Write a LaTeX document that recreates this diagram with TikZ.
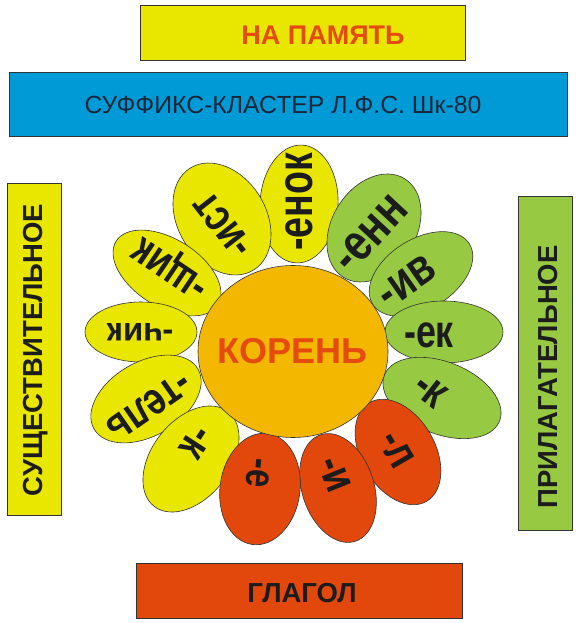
\documentclass[tikz,border=0pt]{standalone}
\usepackage{fontspec}
\setmainfont{Liberation Sans}
\usetikzlibrary{shapes.geometric}
\definecolor{yel}{RGB}{233,230,0}
\definecolor{grn}{RGB}{152,201,66}
\definecolor{redp}{RGB}{226,72,12}
\definecolor{amber}{RGB}{243,183,0}
\definecolor{blu}{RGB}{0,155,214}
\definecolor{orng}{RGB}{229,75,15}
\definecolor{txt}{RGB}{28,28,28}
\definecolor{navy}{RGB}{22,38,58}
\newcommand{\ptxt}[3]{{\fontsize{#1}{#1}\selectfont\bfseries\rule{0pt}{0.52em}\smash{\scalebox{#2}[1]{#3}}}}
\begin{document}
\begin{tikzpicture}[x=1pt,y=1pt,
  petal/.style={ellipse, draw=black!80, line width=0.6pt, inner sep=0pt},
  ptext/.style={inner sep=0pt, text depth=0pt, text=txt},
  lab/.style={anchor=base, inner sep=0pt},
  box/.style={rectangle, draw=black!80, line width=0.7pt, inner sep=0pt}]
\useasboundingbox (0,0) rectangle (578,623);
% boxes
\node[box, fill=yel, minimum width=325pt, minimum height=55pt] (topbox) at (302.5,590.5) {};
\node[box, fill=blu, minimum width=558pt, minimum height=64pt] (bluebox) at (288,519) {};
\node[box, fill=yel, minimum width=54pt, minimum height=332pt] (leftbox) at (34,274) {};
\node[box, fill=grn, minimum width=54pt, minimum height=334pt] (rightbox) at (545,260) {};
\node[box, fill=redp, minimum width=326pt, minimum height=55pt] (botbox) at (299,32.5) {};
\node[lab, text=orng, font=\fontsize{27}{27}\selectfont\bfseries] (ttop) at (323,578) {НА ПАМЯТЬ};
\node[lab, text=navy, font=\fontsize{24.8}{24.8}\selectfont] (tblue) at (283,509) {СУФФИКС-КЛАСТЕР Л.Ф.С. Шк-80};
\node[lab, text=txt, rotate=90, font=\fontsize{27.5}{27.5}\selectfont\bfseries] (tleft) at (43,273) {СУЩЕСТВИТЕЛЬНОЕ};
\node[lab, text=txt, rotate=90, font=\fontsize{27.5}{27.5}\selectfont\bfseries] (tright) at (557,246) {ПРИЛАГАТЕЛЬНОЕ};
\node[lab, text=txt, font=\fontsize{27.5}{27.5}\selectfont\bfseries] (tbot) at (302,20) {ГЛАГОЛ};
% petals (top to bottom)
\node[petal, fill=yel, minimum width=118pt, minimum height=78pt, rotate=87] (p1) at (299,419) {};
\node[petal, fill=yel, minimum width=120pt, minimum height=88pt, rotate=122] (p2) at (222,404) {};
\node[petal, fill=grn, minimum width=116pt, minimum height=84pt, rotate=58] (p13) at (374,395) {};
\node[petal, fill=yel, minimum width=120pt, minimum height=68pt, rotate=148] (p3) at (167,350) {};
\node[petal, fill=grn, minimum width=114pt, minimum height=70pt, rotate=32] (p12) at (421,349) {};
\node[petal, fill=yel, minimum width=112pt, minimum height=60pt, rotate=0] (p4) at (141,291) {};
\node[petal, fill=grn, minimum width=118pt, minimum height=62pt, rotate=0] (p11) at (444,291) {};
\node[petal, fill=grn, minimum width=124pt, minimum height=72pt, rotate=-22] (p10) at (442,225) {};
\node[petal, fill=yel, minimum width=120pt, minimum height=74pt, rotate=210] (p5) at (146,224) {};
\node[petal, fill=redp, minimum width=114pt, minimum height=74pt, rotate=300] (p9) at (398,171) {};
\node[petal, fill=yel, minimum width=120pt, minimum height=78pt, rotate=232] (p6) at (191,164) {};
\node[petal, fill=redp, minimum width=112pt, minimum height=72pt, rotate=288] (p8) at (338,135) {};
\node[petal, fill=redp, minimum width=112pt, minimum height=80pt, rotate=262] (p7) at (260,134) {};
% petal texts
\node[ptext, rotate=90] (s1) at (299,421) {\ptxt{50}{0.75}{-енок}};
\node[ptext, rotate=128] (s2) at (223,398) {\ptxt{46}{0.78}{-ист}};
\node[ptext, rotate=146] (s3) at (170,354) {\ptxt{46}{0.78}{-щик}};
\node[ptext, rotate=180] (s4) at (140,291) {\ptxt{33}{1}{-чик}};
\node[ptext, rotate=215] (s5) at (149,217) {\ptxt{46}{0.78}{-тель}};
\node[ptext, rotate=237] (s6) at (196,180) {\ptxt{46}{0.78}{-к}};
\node[ptext, rotate=265] (s7) at (258,150) {\ptxt{42}{0.78}{-е}};
\node[ptext, rotate=292] (s8) at (334,148) {\ptxt{46}{0.78}{-и}};
\node[ptext, rotate=300] (s9) at (397,173) {\ptxt{46}{0.78}{-л}};
\node[ptext, rotate=-38] (s10) at (430,232) {\ptxt{48}{0.78}{-к}};
\node[ptext, rotate=0] (s11) at (429,287) {\ptxt{46}{0.78}{-ек}};
\node[ptext, rotate=35] (s12) at (407,341) {\ptxt{50}{0.78}{-ив}};
\node[ptext, rotate=47] (s13) at (371,389) {\ptxt{52}{0.8}{-енн}};
% root
\node[ellipse, draw=black!80, line width=0.6pt, fill=amber, inner sep=0pt, minimum width=190pt, minimum height=172pt] (root) at (293,271.5) {};
\node[inner sep=0pt, text=orng, font=\fontsize{36}{36}\selectfont\bfseries] (troot) at (292.5,272) {КОРЕНЬ};
\end{tikzpicture}
\end{document}
